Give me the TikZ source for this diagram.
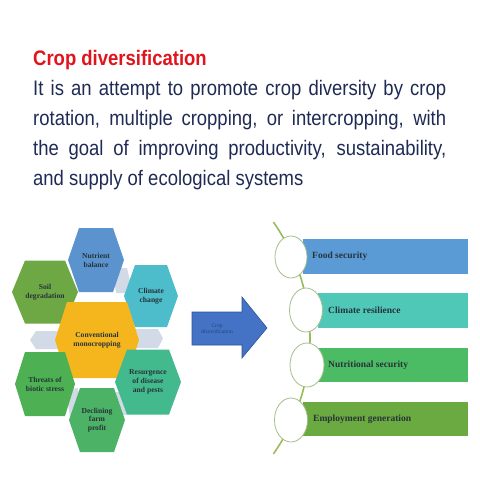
\documentclass[tikz,border=0pt]{standalone}
\usepackage{fontspec}
\setmainfont{Liberation Serif}
\newfontfamily\headfont[FakeStretch=0.88]{Liberation Sans}
\usetikzlibrary{shapes.geometric}
\definecolor{titlered}{HTML}{E0141C}
\definecolor{bodynavy}{HTML}{1F2A55}
\definecolor{hexgray}{HTML}{D3DAE7}
\definecolor{hexsoil}{HTML}{6EA845}
\definecolor{hexnutr}{HTML}{5B93CF}
\definecolor{hexclim}{HTML}{4DBCCB}
\definecolor{hexconv}{HTML}{F5B61D}
\definecolor{hexthr}{HTML}{4DB052}
\definecolor{hexres}{HTML}{43BA8D}
\definecolor{hexdec}{HTML}{4CB266}
\definecolor{arrowblue}{HTML}{4472C4}
\definecolor{arrowedge}{HTML}{2F5597}
\definecolor{barone}{HTML}{5B9BD5}
\definecolor{bartwo}{HTML}{4FC8B8}
\definecolor{barthree}{HTML}{4CBC64}
\definecolor{barfour}{HTML}{6BAA40}
\definecolor{spine}{HTML}{9BBB59}
\definecolor{ringedge}{HTML}{A7BF8C}
\definecolor{labeltext}{HTML}{26343A}
\tikzset{
  hexlabel/.style={align=center,font=\fontsize{7.6}{8.8}\selectfont\bfseries,text=labeltext,inner sep=0pt},
  barlabel/.style={anchor=west,font=\fontsize{9.5}{10.5}\selectfont\bfseries,text=labeltext,inner sep=0pt},
  ring/.style={ellipse,draw=ringedge,line width=0.8pt,fill=white,inner sep=0pt},
  bodyline/.style={anchor=base west,inner sep=0pt,text=bodynavy,font=\headfont\fontsize{21}{30}\selectfont},
}
\newcommand{\hexa}[8]{%
  \fill[#7] ({#2-#4},#3) -- ({#2-#4+#6},{#3-#5}) -- ({#2+#4-#6},{#3-#5}) -- ({#2+#4},#3) -- ({#2+#4-#6},{#3+#5}) -- ({#2-#4+#6},{#3+#5}) -- cycle;
  \node[hexlabel] (#1) at (#2,#3) {#8};}
\begin{document}
\begin{tikzpicture}[x=1pt,y=-1pt]
\useasboundingbox[fill=white] (0,0) rectangle (480,480);
% title and text
\node[anchor=base west,inner sep=0pt,text=titlered,font=\headfont\fontsize{21}{30}\selectfont\bfseries] (title) at (33,65) {Crop diversification};
\node[bodyline] (l1) at (33,95) {\makebox[413pt][s]{It is an attempt to promote crop diversity by crop}};
\node[bodyline] (l2) at (33,125) {\makebox[413pt][s]{rotation, multiple cropping, or intercropping, with}};
\node[bodyline] (l3) at (33,155) {\makebox[413pt][s]{the goal of improving productivity, sustainability,}};
\node[bodyline] (l4) at (33,185) {and supply of ecological systems};
% gray links behind hexagons
\fill[hexgray] (30,340) -- (36,331) -- (62,331) -- (62,349) -- (36,349) -- cycle;
\fill[hexgray] (132,329) -- (158,329) -- (163,338.5) -- (158,348) -- (132,348) -- cycle;
\fill[hexgray] (112,268) -- (127,268) -- (133,293) -- (116,293) -- cycle;
\fill[hexgray] (66,390) -- (78,388) -- (81,417) -- (70,417) -- cycle;
\fill[hexgray] (116,392) -- (127,392) -- (127,415) -- (116,415) -- cycle;
% hexagons
\hexa{soil}{45}{292}{33}{31.5}{13}{hexsoil}{Soil\\degradation}
\hexa{nutr}{96}{260}{28}{32}{11}{hexnutr}{Nutrient\\balance}
\hexa{clim}{151}{296}{27}{31}{11}{hexclim}{Climate\\change}
\hexa{conv}{97}{340}{42}{38}{12}{hexconv}{Conventional\\monocropping}
\hexa{thr}{45}{384}{30}{32}{10}{hexthr}{Threats of\\biotic stress}
\hexa{res}{148}{382}{33}{32.5}{12}{hexres}{Resurgence\\of disease\\and pests}
\hexa{dec}{97}{420}{28}{32}{11}{hexdec}{Declining\\farm\\profit}
% arrow
\fill[arrowblue,draw=arrowedge,line width=0.6pt] (192,312) -- (242,312) -- (242,297) -- (267,328) -- (242,358) -- (242,345) -- (192,345) -- cycle;
\node[align=center,font=\fontsize{5.5}{6.5}\selectfont,text=arrowedge!80!black,inner sep=0pt] (arrowtext) at (217,328.5) {Crop\\diversification};
% bars
\fill[barone] (303,239) rectangle (468,274);
\fill[bartwo] (318,293) rectangle (468,328);
\fill[barthree] (318,348) rectangle (468,382);
\fill[barfour] (303,402) rectangle (468,436);
% spine
\draw[spine,line width=1.6pt] (108,338) ++(-35:202) arc[start angle=-35,end angle=35,radius=202];
% rings
\node[ring,minimum width=32pt,minimum height=42pt] (c1) at (291,257) {};
\node[ring,minimum width=33pt,minimum height=44pt] (c2) at (306,310) {};
\node[ring,minimum width=34pt,minimum height=44pt] (c3) at (307,365) {};
\node[ring,minimum width=33pt,minimum height=44pt] (c4) at (291,420) {};
% bar labels
\node[barlabel] (b1) at (312,256.5) {Food security};
\node[barlabel] (b2) at (328,310.5) {Climate resilience};
\node[barlabel] (b3) at (328,365) {Nutritional security};
\node[barlabel] (b4) at (313,419) {Employment generation};
\end{tikzpicture}
\end{document}
